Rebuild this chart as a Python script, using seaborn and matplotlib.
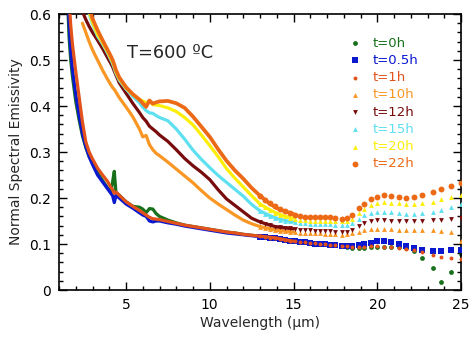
import numpy as np
import pandas as pd
import matplotlib
matplotlib.use("Agg")
import matplotlib.pyplot as plt
import seaborn as sns
from matplotlib.ticker import MultipleLocator

# ---------------- data ----------------
labels = ["t=0h", "t=0.5h", "t=1h", "t=10h", "t=12h", "t=15h", "t=20h", "t=22h"]

# dense (continuous-looking) part of the spectra
wl_line = [1.5, 1.6, 1.7, 1.8, 2.0, 2.2, 2.4, 2.6, 2.8, 3.0, 3.3, 3.6, 3.9, 4.1, 4.2,
           4.3, 4.4, 4.6, 5.0, 5.4, 5.8, 6.0, 6.2, 6.4, 6.6, 6.8, 7.0, 7.5, 8.0, 8.5,
           9.0, 9.5, 10.0, 10.5, 11.0, 11.5, 12.0, 12.5, 13.0, 13.5, 14.0, 14.5, 15.0]
nan = np.nan
line_0h = [0.64, 0.55, 0.50, 0.465, 0.41, 0.37, 0.335, 0.31, 0.29, 0.275, 0.255, 0.238, 0.222, 0.214, 0.235,
           0.258, 0.212, 0.206, 0.192, 0.182, 0.180, 0.176, 0.168, 0.177, 0.176, 0.166, 0.160, 0.152, 0.146, 0.141,
           0.138, 0.135, 0.132, 0.129, 0.126, 0.124, 0.121, 0.119, 0.117, 0.115, 0.113, 0.111, 0.107]
line_05h = [0.68, 0.58, 0.52, 0.48, 0.425, 0.38, 0.34, 0.312, 0.29, 0.273, 0.25, 0.235, 0.22, 0.21, 0.205,
            0.19, 0.205, 0.20, 0.187, 0.178, 0.168, 0.163, 0.160, 0.150, 0.148, 0.150, 0.150, 0.146, 0.143, 0.139,
            0.136, 0.133, 0.130, 0.127, 0.124, 0.122, 0.120, 0.118, 0.116, 0.114, 0.112, 0.109, 0.106]
line_1h = [0.72, 0.63, 0.575, 0.535, 0.475, 0.42, 0.365, 0.322, 0.30, 0.285, 0.265, 0.25, 0.236, 0.223, 0.218,
           0.21, 0.213, 0.206, 0.192, 0.182, 0.173, 0.168, 0.163, 0.158, 0.155, 0.154, 0.153, 0.149, 0.145, 0.141,
           0.138, 0.135, 0.132, 0.129, 0.126, 0.124, 0.121, 0.119, 0.117, 0.115, 0.113, 0.109, 0.106]
line_10h = [nan, nan, nan, nan, nan, nan, 0.58, 0.56, 0.54, 0.522, 0.50, 0.478, 0.458, 0.446, 0.44,
            0.436, 0.43, 0.418, 0.398, 0.377, 0.35, 0.333, 0.336, 0.316, 0.305, 0.297, 0.292, 0.278, 0.263, 0.248,
            0.233, 0.216, 0.200, 0.187, 0.175, 0.163, 0.152, 0.144, 0.138, 0.134, 0.130, 0.128, 0.126]
line_12h = [nan, nan, nan, nan, nan, nan, 0.605, 0.588, 0.573, 0.56, 0.543, 0.525, 0.505, 0.492, 0.485,
            0.476, 0.467, 0.45, 0.428, 0.406, 0.386, 0.375, 0.367, 0.356, 0.35, 0.344, 0.337, 0.323, 0.305, 0.286,
            0.27, 0.256, 0.24, 0.218, 0.198, 0.184, 0.17, 0.156, 0.148, 0.142, 0.137, 0.135, 0.133]
line_15h = [nan, nan, nan, nan, nan, nan, nan, 0.625, 0.60, 0.578, 0.552, 0.535, 0.515, 0.50, 0.492,
            0.482, 0.471, 0.456, 0.437, 0.421, 0.407, 0.397, 0.39, 0.385, 0.384, 0.379, 0.375, 0.368, 0.35, 0.328,
            0.304, 0.284, 0.266, 0.249, 0.234, 0.219, 0.204, 0.186, 0.172, 0.163, 0.156, 0.151, 0.148]
line_20h = [nan, nan, nan, nan, nan, nan, nan, 0.63, 0.605, 0.582, 0.556, 0.538, 0.518, 0.503, 0.496,
            0.486, 0.474, 0.459, 0.439, 0.425, 0.414, 0.411, 0.407, 0.411, 0.403, 0.402, 0.401, 0.396, 0.388, 0.375,
            0.359, 0.337, 0.314, 0.29, 0.264, 0.243, 0.224, 0.205, 0.187, 0.176, 0.167, 0.160, 0.156]
line_22h = [nan, nan, nan, nan, nan, nan, nan, 0.65, 0.615, 0.59, 0.565, 0.543, 0.522, 0.508, 0.50,
            0.49, 0.478, 0.462, 0.441, 0.426, 0.414, 0.406, 0.398, 0.412, 0.405, 0.408, 0.41, 0.411, 0.406, 0.396,
            0.377, 0.355, 0.333, 0.306, 0.281, 0.26, 0.242, 0.222, 0.205, 0.19, 0.178, 0.171, 0.165]

# sparse (individual markers) part of the spectra
wl_pts = [13.0, 13.3, 13.6, 13.9, 14.2, 14.5, 14.8, 15.1, 15.4, 15.7, 16.0, 16.3, 16.6, 16.9, 17.2, 17.5,
          17.9, 18.2, 18.5, 18.9, 19.2, 19.6, 20.0, 20.4, 20.8, 21.3, 21.7, 22.2, 22.7, 23.3, 23.8, 24.4, 25.0]
pts_0h = [0.117, 0.116, 0.114, 0.113, 0.112, 0.111, 0.109, 0.106, 0.105, 0.104, 0.103, 0.102, 0.100, 0.099, 0.098, 0.097,
          0.095, 0.093, 0.091, 0.091, 0.092, 0.093, 0.093, 0.093, 0.094, 0.094, 0.092, 0.085, 0.069, 0.048, 0.017, 0.040, 0.078]
pts_05h = [0.116, 0.115, 0.113, 0.112, 0.111, 0.109, 0.107, 0.106, 0.105, 0.104, 0.103, 0.101, 0.100, 0.099, 0.098, 0.097,
           0.096, 0.095, 0.095, 0.097, 0.099, 0.103, 0.107, 0.107, 0.104, 0.100, 0.096, 0.092, 0.088, 0.085, 0.085, 0.087, 0.088]
pts_1h = [0.117, 0.115, 0.114, 0.112, 0.111, 0.109, 0.107, 0.106, 0.105, 0.104, 0.103, 0.102, 0.100, 0.099, 0.098, 0.097,
          0.096, 0.095, 0.094, 0.094, 0.094, 0.095, 0.095, 0.094, 0.093, 0.092, 0.090, 0.087, 0.082, 0.076, 0.071, 0.069, 0.068]
pts_10h = [0.138, 0.135, 0.133, 0.131, 0.129, 0.128, 0.127, 0.126, 0.125, 0.124, 0.124, 0.123, 0.123, 0.122, 0.122, 0.121,
           0.120, 0.121, 0.123, 0.127, 0.130, 0.132, 0.133, 0.133, 0.132, 0.131, 0.131, 0.131, 0.130, 0.130, 0.129, 0.126, 0.106]
pts_12h = [0.148, 0.144, 0.141, 0.138, 0.136, 0.135, 0.134, 0.132, 0.131, 0.130, 0.130, 0.129, 0.129, 0.129, 0.128, 0.127,
           0.126, 0.127, 0.131, 0.140, 0.146, 0.150, 0.152, 0.152, 0.151, 0.151, 0.151, 0.151, 0.151, 0.152, 0.153, 0.155, 0.157]
pts_15h = [0.172, 0.166, 0.161, 0.157, 0.153, 0.151, 0.149, 0.147, 0.146, 0.145, 0.144, 0.143, 0.143, 0.143, 0.143, 0.142,
           0.141, 0.142, 0.145, 0.155, 0.162, 0.167, 0.170, 0.170, 0.169, 0.167, 0.166, 0.166, 0.167, 0.170, 0.175, 0.181, 0.188]
pts_20h = [0.187, 0.180, 0.174, 0.168, 0.163, 0.160, 0.157, 0.155, 0.153, 0.152, 0.151, 0.151, 0.151, 0.151, 0.151, 0.150,
           0.149, 0.150, 0.155, 0.168, 0.177, 0.185, 0.190, 0.191, 0.190, 0.189, 0.188, 0.188, 0.190, 0.192, 0.197, 0.202, 0.206]
pts_22h = [0.205, 0.196, 0.189, 0.182, 0.176, 0.171, 0.167, 0.164, 0.161, 0.159, 0.158, 0.158, 0.158, 0.159, 0.158, 0.156,
           0.155, 0.156, 0.164, 0.178, 0.187, 0.197, 0.203, 0.206, 0.204, 0.202, 0.201, 0.202, 0.206, 0.212, 0.219, 0.227, 0.232]

ytick_values = [0, 0.1, 0.2, 0.3, 0.4, 0.5, 0.6]
ytick_labels = ["0", "0.1", "0.2", "0.3", "0.4", "0.5", "0.6"]
xtick_values = [5, 10, 15, 20, 25]

# ---------------- styling ----------------
colors = ["#17701c", "#0a18d0", "#e2521a", "#f99624", "#780c0c", "#5fe0f0", "#fcee0a", "#ec6a16"]
markers = ["o", "s", "o", "^", "v", "^", "^", "o"]
msizes = [12, 16, 8, 12, 12, 12, 12, 18]
lwidths = [2.3, 2.3, 2.3, 2.3, 2.3, 2.3, 2.3, 2.7]

sns.set_style("ticks")
plt.rcParams["font.family"] = ["DejaVu Sans"]

fig = plt.figure(figsize=(4.74, 3.39), dpi=100)
ax = fig.add_axes([59 / 474, 49 / 339, 402 / 474, 276 / 339])

line_sets = [line_0h, line_05h, line_1h, line_10h, line_12h, line_15h, line_20h, line_22h]
pts_sets = [pts_0h, pts_05h, pts_1h, pts_10h, pts_12h, pts_15h, pts_20h, pts_22h]

for i, lab in enumerate(labels):
    dl = pd.DataFrame({"wl": wl_line, "e": line_sets[i]}).dropna()
    sns.lineplot(data=dl, x="wl", y="e", color=colors[i], lw=lwidths[i],
                 ax=ax, zorder=2 + i, solid_capstyle="round", sort=False)
    dp = pd.DataFrame({"wl": wl_pts, "e": pts_sets[i]})
    sns.scatterplot(data=dp, x="wl", y="e", color=colors[i], marker=markers[i],
                    s=msizes[i], linewidth=0, ax=ax, zorder=2 + i, label=lab)

ax.set_xlim(1, 25)
ax.set_ylim(0, 0.6)
ax.set_xticks(xtick_values)
ax.set_yticks(ytick_values)
ax.set_yticklabels(ytick_labels)
ax.xaxis.set_minor_locator(MultipleLocator(1))
ax.yaxis.set_minor_locator(MultipleLocator(0.02))
ax.tick_params(which="both", direction="in", top=True, right=True, width=1.0, colors="black")
ax.tick_params(which="major", length=6, labelsize=10, pad=6)
ax.tick_params(which="minor", length=3)
for s in ax.spines.values():
    s.set_linewidth(1.2)
    s.set_color("black")

ax.set_xlabel("Wavelength (\u03bcm)", fontsize=10, labelpad=3)
ax.set_ylabel("Normal Spectral Emissivity", fontsize=10, labelpad=4)

ax.text(0.17, 0.86, "T=600 \u00baC", transform=ax.transAxes, fontsize=12.8,
        ha="left", va="center")

leg = ax.legend(loc="upper left", bbox_to_anchor=(0.72, 0.918), frameon=False,
                fontsize=9.5, handlelength=1.0, handletextpad=0.85, labelspacing=0.32,
                borderpad=0, borderaxespad=0, markerscale=1.0, labelcolor="markerfacecolor")

fig.savefig("out.png", dpi=100)
